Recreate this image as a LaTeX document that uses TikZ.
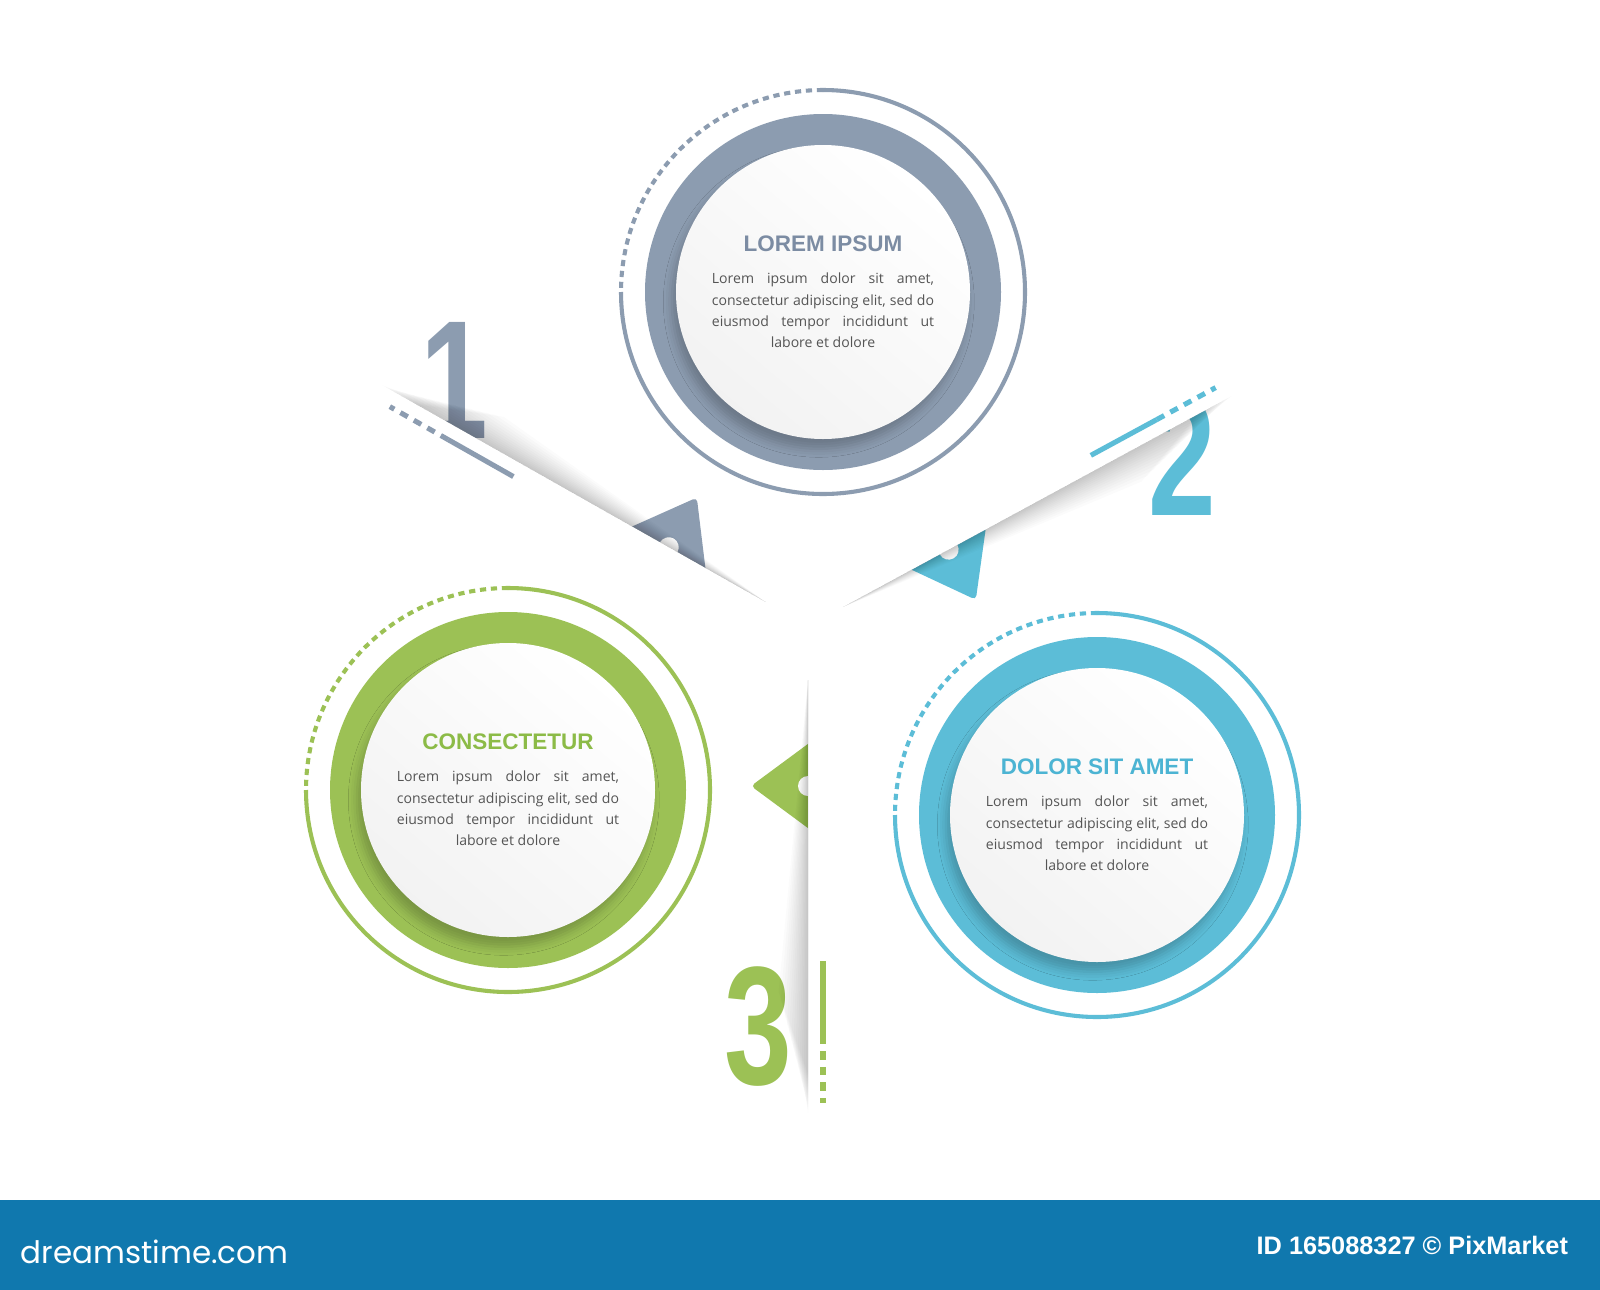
\documentclass[tikz,border=0pt]{standalone}
\usepackage{fontspec}
\setmainfont{Open Sans}
\newfontfamily\headfont{Liberation Sans}
\newfontfamily\logofont{Poppins}
\usetikzlibrary{shadows.blur}

\definecolor{slate}{HTML}{8C9CB0}
\definecolor{slatetext}{HTML}{7C8CA3}
\definecolor{leaf}{HTML}{9CC155}
\definecolor{leaftext}{HTML}{8CBB47}
\definecolor{sky}{HTML}{5CBDD7}
\definecolor{skytext}{HTML}{4CB4D3}
\definecolor{bodygray}{HTML}{555555}
\definecolor{barblue}{HTML}{1078AE}

\newlength\bodywidth
\setlength\bodywidth{158pt}
\newcommand\loremtext{%
  \makebox[\bodywidth][s]{Lorem ipsum dolor sit amet,}\\
  \makebox[\bodywidth][s]{consectetur adipiscing elit, sed do}\\
  \makebox[\bodywidth][s]{eiusmod tempor incididunt ut}\\
  labore et dolore}

\tikzset{
  ring/.style={line width=2.9pt},
  ringdash/.style={line width=2.9pt, dash pattern=on 4.4pt off 3.4pt},
  tickline/.style={line width=3.6pt},
  tickdash/.style={line width=3.6pt, dash pattern=on 6pt off 5pt},
  disc/.style={top color=white, bottom color=black!5, shading angle=-40,
    blur shadow={shadow xshift=-3pt, shadow yshift=-7pt, shadow blur radius=6pt, shadow opacity=22}},
  headtitle/.style={font=\headfont\bfseries\fontsize{16}{16}\selectfont, inner sep=0pt},
  bodytext/.style={font=\fontsize{10}{15}\selectfont, text=bodygray, align=center, inner sep=0pt, anchor=north},
  bignum/.style={font=\headfont\bfseries\fontsize{120}{120}\selectfont, inner sep=0pt},
  paper/.style={fill=white},
  fold/.style={fill=black, opacity=0.017},
}

\begin{document}
\begin{tikzpicture}[x=0.025cm, y=0.025cm]
  \useasboundingbox (0,0) rectangle (1600,-1290);
  \fill[white] (0,0) rectangle (1600,-1290);

  \node[bignum, text=slate] (num1) at (454,-380) {\scalebox{0.72}[1]{1}};
  \node[bignum, text=sky] (num2) at (1182,-457) {\scalebox{0.72}[1]{2}};
  \node[bignum, text=leaf] (num3) at (758,-1027) {\scalebox{0.72}[1]{3}};

  \begin{scope}[shift={(808,-626)}, rotate=150.5]
    \fill[slate, rounded corners=3pt] (160,-57) -- (112,8) -- (208,8) -- cycle;
    \fill[white] (160,0) circle (10);
    \fill[paper] (0,0) rectangle (495,90);
    \foreach \i in {1,...,14}
      \fill[fold] (48,0) -- (492-3*\i,0) -- (480-8*\i,-2.3*\i) -- cycle;
    \draw[tickline, slate] (330,15) -- (405,15);
    \draw[tickdash, slate] (405,15) -- (472,15);
  \end{scope}

  \begin{scope}[shift={(808,-626)}, rotate=28.5]
    \fill[sky, rounded corners=3pt] (160,-57) -- (112,8) -- (208,8) -- cycle;
    \fill[white] (160,0) circle (10);
    \fill[paper] (0,0) rectangle (495,90);
    \foreach \i in {1,...,14}
      \fill[fold] (40,0) -- (486-3*\i,0) -- (474-8*\i,-2.3*\i) -- cycle;
    \draw[tickline, sky] (330,15) -- (405,15);
    \draw[tickdash, sky] (405,15) -- (472,15);
  \end{scope}

  \begin{scope}[shift={(808,-626)}, rotate=270]
    \fill[leaf, rounded corners=3pt] (160,-57) -- (112,8) -- (208,8) -- cycle;
    \fill[white] (160,0) circle (10);
    \fill[paper] (0,0) rectangle (495,80);
    \foreach \i in {1,...,14}
      \fill[fold] (54,0) -- (490-3*\i,0) -- (478-8*\i,-2.1*\i) -- cycle;
    \draw[tickline, leaf] (335,15) -- (410,15);
    \draw[tickdash, leaf] (410,15) -- (477,15);
  \end{scope}

  \begin{scope}[shift={(823,-292)}]
    \draw[ring, slate] (0,202) arc (90:-180:202);
    \draw[ringdash, slate] (0,202) arc (90:180:202);
    \fill[slate] (0,0) circle (178);
    \shade[disc] (0,0) circle (147);
    \node[headtitle, text=slatetext] (title1) at (0,48) {LOREM IPSUM};
    \node[bodytext] (text1) at (0,19) {\loremtext};
  \end{scope}

  \begin{scope}[shift={(1097,-815)}]
    \draw[ring, sky] (0,202) arc (90:-180:202);
    \draw[ringdash, sky] (0,202) arc (90:180:202);
    \fill[sky] (0,0) circle (178);
    \shade[disc] (0,0) circle (147);
    \node[headtitle, text=skytext] (title2) at (0,48) {DOLOR SIT AMET};
    \node[bodytext] (text2) at (0,19) {\loremtext};
  \end{scope}

  \begin{scope}[shift={(508,-790)}]
    \draw[ring, leaf] (0,202) arc (90:-180:202);
    \draw[ringdash, leaf] (0,202) arc (90:180:202);
    \fill[leaf] (0,0) circle (178);
    \shade[disc] (0,0) circle (147);
    \node[headtitle, text=leaftext] (title3) at (0,48) {CONSECTETUR};
    \node[bodytext] (text3) at (0,19) {\loremtext};
  \end{scope}

  \fill[barblue] (0,-1200) rectangle (1600,-1290);
  \node[anchor=west, text=white, font=\logofont\fontsize{22}{22}\selectfont] (logo) at (16,-1252) {dreamstime.com};
  \node[anchor=east, text=white, font=\headfont\bfseries\fontsize{18}{18}\selectfont] (credit) at (1573,-1245) {ID 165088327 © PixMarket};
\end{tikzpicture}
\end{document}
